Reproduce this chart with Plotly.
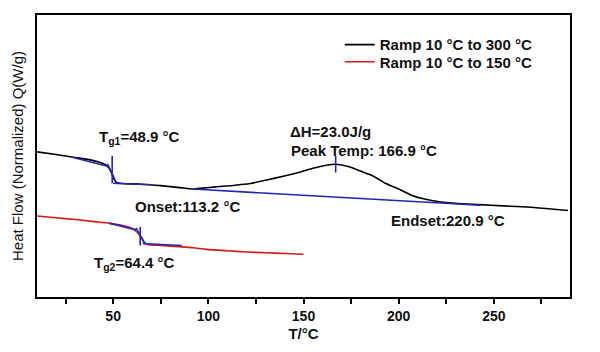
import plotly.graph_objects as go

# ---- data (arbitrary heat-flow units) ----
t_300 = [10, 20, 30, 38, 42, 46, 48, 49.5, 50.5, 52, 55, 65, 75, 85, 92, 97, 104, 113, 122, 130,
         140, 148, 155, 162, 167, 174, 180, 186, 193, 200, 207, 213, 218, 230, 242, 255, 268, 280, 289]
q_300 = [1.493, 1.465, 1.435, 1.41, 1.39, 1.36, 1.32, 1.26, 1.21, 1.175, 1.167, 1.16, 1.145, 1.125,
         1.11, 1.12, 1.133, 1.147, 1.167, 1.20, 1.245, 1.283, 1.325, 1.355, 1.365, 1.34, 1.295, 1.25,
         1.17, 1.11, 1.045, 1.01, 0.99, 0.963, 0.95, 0.937, 0.925, 0.905, 0.89]

t_150 = [10, 20, 30, 40, 48, 55, 60, 62.5, 64.5, 66, 68, 75, 85, 92, 99, 110, 120, 130, 140, 150]
q_150 = [0.833, 0.815, 0.797, 0.775, 0.757, 0.735, 0.705, 0.67, 0.62, 0.57, 0.54, 0.53, 0.517,
         0.507, 0.49, 0.475, 0.463, 0.455, 0.448, 0.44]

# analysis construction lines (blue)
tg1_pre_t, tg1_pre_q = [28, 48], [1.44, 1.34]
tg1_tan_t, tg1_tan_q = [47, 52], [1.37, 1.16]
tg1_post_t, tg1_post_q = [50, 70], [1.17, 1.155]
tg1_mark_t, tg1_mark_q = [49.5, 49.5], [1.45, 1.17]
base_t, base_q = [92, 243], [1.11, 0.943]
peak_t, peak_q = [166.9, 166.9], [1.45, 1.28]
tg2_pre_t, tg2_pre_q = [48, 62], [0.76, 0.69]
tg2_tan_t, tg2_tan_q = [62, 67], [0.71, 0.54]
tg2_post_t, tg2_post_q = [65.5, 86], [0.55, 0.53]
tg2_mark_t, tg2_mark_q = [64.2, 64.2], [0.72, 0.53]

series_names = ["Ramp 10 °C to 300 °C", "Ramp 10 °C to 150 °C"]
x_ticks = [50, 100, 150, 200, 250]

FONT = "Liberation Sans, Arial, sans-serif"
BLUE = "#2424b4"

fig = go.Figure()
fig.add_trace(go.Scatter(x=t_300, y=q_300, mode="lines", name=series_names[0], legend="legend",
                         line=dict(color="black", width=1.6, shape="spline", smoothing=0.6)))
fig.add_trace(go.Scatter(x=t_150, y=q_150, mode="lines", name=series_names[1], legend="legend2",
                         line=dict(color="#d81818", width=1.6, shape="spline", smoothing=0.6)))

for tx, qy in [(tg1_pre_t, tg1_pre_q), (tg1_tan_t, tg1_tan_q), (tg1_post_t, tg1_post_q),
               (tg1_mark_t, tg1_mark_q), (base_t, base_q), (peak_t, peak_q),
               (tg2_pre_t, tg2_pre_q), (tg2_tan_t, tg2_tan_q), (tg2_post_t, tg2_post_q),
               (tg2_mark_t, tg2_mark_q)]:
    fig.add_trace(go.Scatter(x=tx, y=qy, mode="lines", showlegend=False,
                             line=dict(color=BLUE, width=1.6), hoverinfo="skip"))

ann_font = dict(family=FONT, size=15, color="#111", weight="bold")
anns = [
    ("T<sub>g1</sub>=48.9 °C", 41.5, 1.64),
    ("ΔH=23.0J/g", 141.6, 1.70),
    ("Peak Temp: 166.9 °C", 142.2, 1.51),
    ("Onset:113.2 °C", 60.4, 0.93),
    ("Endset:220.9 °C", 195, 0.79),
    ("T<sub>g2</sub>=64.4 °C", 39, 0.34),
]
for txt, ax_, ay_ in anns:
    fig.add_annotation(x=ax_, y=ay_, text=txt, showarrow=False, xanchor="left",
                       yanchor="middle", font=ann_font)

leg_common = dict(xanchor="left", yanchor="middle", bgcolor="rgba(0,0,0,0)",
                  font=dict(family=FONT, size=15, weight="bold", color="#111"), itemwidth=30)

fig.update_layout(
    width=600, height=352,
    margin=dict(l=37, r=30, t=15, b=47),
    paper_bgcolor="white", plot_bgcolor="white",
    font=dict(family=FONT, color="#111"),
    showlegend=True,
    legend=dict(x=0.568, y=(305 - 45.7) / 290, **leg_common),
    legend2=dict(x=0.568, y=(305 - 63.3) / 290, **leg_common),
    xaxis=dict(range=[10, 290], tickvals=x_ticks, ticks="outside", ticklen=5, tickwidth=1.5,
               tickcolor="black", showline=True, linecolor="black", linewidth=2, mirror=True,
               showgrid=False, zeroline=False,
               tickfont=dict(family=FONT, size=14, weight="bold", color="#111"),
               minor=dict(tickvals=[25, 75, 125, 175, 225, 275], ticks="outside", ticklen=5,
                          tickwidth=1.5, tickcolor="black"),
               title=dict(text="T/°C", font=dict(family=FONT, size=15, weight="bold"), standoff=6)),
    yaxis=dict(range=[0, 2.9], showticklabels=False, ticks="", showline=True, linecolor="black",
               linewidth=2, mirror=True, showgrid=False, zeroline=False,
               title=dict(text="Heat Flow (Normalized) Q(W/g)", font=dict(family=FONT, size=15),
                          standoff=8)),
)

fig.write_html("out.html")
